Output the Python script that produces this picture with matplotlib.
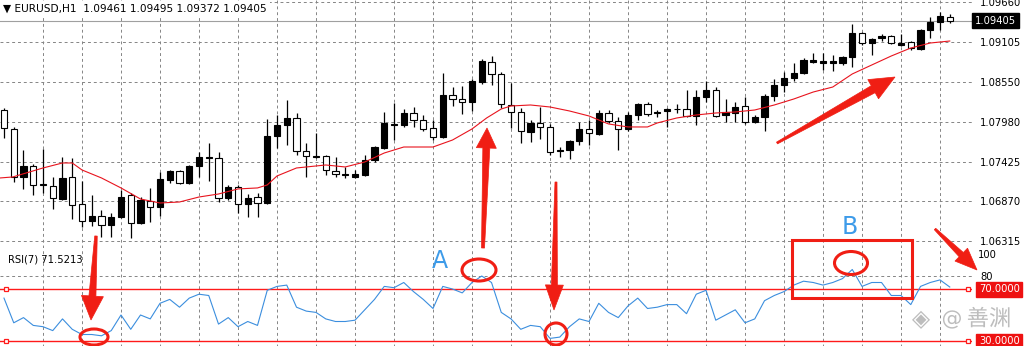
import matplotlib.pyplot as plt
import matplotlib.patches as mpatches
import matplotlib.patheffects as pe
import numpy as np

# EURUSD H1 candles
opens = [1.08152, 1.07886, 1.07213, 1.07367, 1.07101, 1.07087, 1.06904, 1.07213, 1.06834, 1.06596,
         1.06666, 1.06540, 1.06652, 1.06960, 1.06568, 1.06876, 1.06792, 1.07171, 1.07297, 1.07129,
         1.07367, 1.07479, 1.07479, 1.06918, 1.07073, 1.06834, 1.06932, 1.06848, 1.07787, 1.07942,
         1.08040, 1.07577, 1.07493, 1.07507, 1.07297, 1.07241, 1.07213, 1.07241, 1.07451, 1.07619,
         1.07942, 1.07942, 1.08110, 1.08012, 1.07900, 1.07773, 1.08362, 1.08306, 1.08264, 1.08544,
         1.08825, 1.08657, 1.08222, 1.08124, 1.07844, 1.07970, 1.07914, 1.07577, 1.07591, 1.07717,
         1.07886, 1.07815, 1.08110, 1.07998, 1.07886, 1.08082, 1.08236, 1.08110, 1.08138, 1.08166,
         1.08166, 1.08068, 1.08334, 1.08432, 1.08082, 1.08110, 1.08208, 1.07984, 1.08054, 1.08348,
         1.08502, 1.08600, 1.08671, 1.08825, 1.08811, 1.08811, 1.08811, 1.08895, 1.09231, 1.09091,
         1.09161, 1.09189, 1.09063, 1.09105, 1.09007, 1.09273, 1.09386, 1.09461]
highs = [1.08180, 1.07914, 1.07591, 1.07395, 1.07605, 1.07213, 1.07493, 1.07479, 1.07157, 1.06960,
         1.06750, 1.06708, 1.07031, 1.06988, 1.06932, 1.07059, 1.07283, 1.07311, 1.07311, 1.07381,
         1.07563, 1.07689, 1.07563, 1.07101, 1.07101, 1.06974, 1.06988, 1.08026, 1.08082, 1.08292,
         1.08110, 1.07689, 1.07830, 1.07521, 1.07493, 1.07353, 1.07311, 1.07521, 1.07647, 1.08124,
         1.08250, 1.08166, 1.08194, 1.08082, 1.08012, 1.08671, 1.08474, 1.08488, 1.08586, 1.08867,
         1.08909, 1.08685, 1.08530, 1.08180, 1.08012, 1.08194, 1.07956, 1.07633, 1.07731, 1.07984,
         1.08012, 1.08152, 1.08152, 1.08054, 1.08124, 1.08250, 1.08264, 1.08152, 1.08180, 1.08236,
         1.08432, 1.08432, 1.08558, 1.08474, 1.08306, 1.08264, 1.08334, 1.08082, 1.08376, 1.08586,
         1.08685, 1.08811, 1.08881, 1.08951, 1.08951, 1.08923, 1.08909, 1.09358, 1.09245, 1.09161,
         1.09217, 1.09203, 1.09217, 1.09119, 1.09287, 1.09456, 1.09526, 1.09495]
lows = [1.07759, 1.07143, 1.07045, 1.06960, 1.06988, 1.06764, 1.06890, 1.06624, 1.06512, 1.06526,
        1.06371, 1.06371, 1.06638, 1.06357, 1.06554, 1.06582, 1.06666, 1.07129, 1.07115, 1.07115,
        1.07213, 1.07157, 1.06862, 1.06890, 1.06708, 1.06652, 1.06652, 1.06834, 1.07619, 1.07661,
        1.07521, 1.07213, 1.07479, 1.07241, 1.07213, 1.07199, 1.07199, 1.07227, 1.07423, 1.07605,
        1.07731, 1.07914, 1.07914, 1.07858, 1.07731, 1.07759, 1.08208, 1.08096, 1.08138, 1.08516,
        1.08502, 1.08180, 1.07900, 1.07689, 1.07703, 1.07745, 1.07521, 1.07493, 1.07465, 1.07661,
        1.07661, 1.07801, 1.07970, 1.07591, 1.07858, 1.08012, 1.08068, 1.08054, 1.07914, 1.08110,
        1.08054, 1.07942, 1.08264, 1.08054, 1.07984, 1.07984, 1.07956, 1.07970, 1.07858, 1.08278,
        1.08404, 1.08558, 1.08657, 1.08811, 1.08713, 1.08699, 1.08783, 1.08755, 1.09063, 1.08923,
        1.09119, 1.09077, 1.09049, 1.08993, 1.08993, 1.09161, 1.09273, 1.09372]
closes = [1.07900, 1.07213, 1.07367, 1.07101, 1.07115, 1.06918, 1.07199, 1.06820, 1.06596, 1.06666,
          1.06540, 1.06652, 1.06932, 1.06568, 1.06890, 1.06792, 1.07185, 1.07297, 1.07129, 1.07367,
          1.07493, 1.07493, 1.06918, 1.07073, 1.06834, 1.06918, 1.06848, 1.07787, 1.07942, 1.08040,
          1.07577, 1.07507, 1.07507, 1.07311, 1.07255, 1.07255, 1.07255, 1.07451, 1.07633, 1.07970,
          1.07956, 1.08110, 1.08012, 1.07886, 1.07773, 1.08362, 1.08306, 1.08264, 1.08558, 1.08839,
          1.08657, 1.08236, 1.08124, 1.07858, 1.07970, 1.07914, 1.07563, 1.07591, 1.07717, 1.07886,
          1.07830, 1.08110, 1.07998, 1.07886, 1.08082, 1.08236, 1.08096, 1.08124, 1.08166, 1.08172,
          1.08068, 1.08334, 1.08432, 1.08068, 1.08124, 1.08194, 1.07984, 1.08054, 1.08348, 1.08502,
          1.08600, 1.08671, 1.08853, 1.08853, 1.08839, 1.08839, 1.08895, 1.09231, 1.09091, 1.09147,
          1.09189, 1.09091, 1.09091, 1.09021, 1.09273, 1.09386, 1.09470, 1.09405]

# red moving average, read at a set of bars
ma_idx = [-0.4, 0.9, 4, 6, 7, 8, 10, 12, 14, 16, 18, 20, 22, 24, 26, 27, 28, 30, 32, 33,
          35, 37, 39, 41, 43, 44, 46, 48, 49.5, 51, 52, 54, 56, 58, 60, 62, 64, 66, 67, 69,
          71, 73, 75, 77, 79, 81, 83, 85, 87, 89, 91, 93, 95, 97]
ma_vals = [1.07199, 1.07213, 1.07339, 1.07409, 1.07409, 1.07311, 1.07199, 1.07059, 1.06904, 1.06848,
           1.06862, 1.06932, 1.06974, 1.07045, 1.07059, 1.07101, 1.07227, 1.07339, 1.07367, 1.07381,
           1.07353, 1.07423, 1.07549, 1.07633, 1.07633, 1.07633, 1.07731, 1.07886, 1.08040, 1.08166,
           1.08208, 1.08222, 1.08194, 1.08138, 1.08068, 1.07956, 1.07914, 1.07914, 1.07970, 1.08040,
           1.08082, 1.08110, 1.08124, 1.08152, 1.08222, 1.08306, 1.08404, 1.08474, 1.08657, 1.08783,
           1.08909, 1.09021, 1.09091, 1.09119]

# RSI(7) per bar
rsi = [63, 44, 48, 42, 41, 38, 47, 39, 35, 35,
       34, 38, 50, 39, 50, 47, 59, 62, 56, 63,
       66, 65, 43, 48, 41, 45, 42, 69, 72, 73,
       56, 53, 52, 47, 45, 45, 46, 54, 62, 72,
       71, 75, 68, 62, 55, 72, 70, 67, 75, 80,
       75, 52, 47, 39, 42, 41, 32, 33, 41, 47,
       45, 59, 52, 48, 57, 63, 55, 56, 58, 58,
       51, 66, 69, 46, 50, 54, 44, 47, 61, 65,
       68, 73, 76, 75, 73, 75, 78, 85, 72, 75,
       75, 65, 65, 58, 72, 75, 77, 71.5213]

price_levels = [1.09660, 1.09105, 1.08550, 1.07980, 1.07425, 1.06870, 1.06315]
rsi_levels = [70, 30]

W, H = 1024, 346
fig = plt.figure(figsize=(W / 100, H / 100), dpi=100)
fig.patch.set_facecolor('white')


def px_box(x0, y0, x1, y1):
    return [x0 / W, 1 - y1 / H, (x1 - x0) / W, (y1 - y0) / H]


ax = fig.add_axes(px_box(0, 0, 972, 248))
rax = fig.add_axes(px_box(0, 250, 972, 380))

idx = np.arange(len(closes))
o = np.array(opens)
c = np.array(closes)
grid_kw = dict(color='#858585', lw=0.7, ls=(0, (3, 3)))

for a in (ax, rax):
    a.set_xlim(-0.41, 99.28)
    a.set_xticks(range(4, 98, 4))
    a.tick_params(axis='x', length=0, labelbottom=False)
    for s in a.spines.values():
        s.set_visible(False)
    a.grid(True, **grid_kw)
    a.set_axisbelow(True)
    a.yaxis.tick_right()
    a.tick_params(axis='y', length=0, pad=6, labelsize=7.2)

# main window
ax.set_ylim(1.06217, 1.09694)
ax.set_yticks(price_levels)
ax.set_yticklabels(['%.5f' % v for v in price_levels])
ax.axhline(closes[-1], color='#a0a0a0', lw=0.8, zorder=1)
ax.vlines(idx, lows, highs, color='black', lw=0.9, zorder=2)
bull = c >= o
ax.bar(idx, np.abs(c - o), bottom=np.minimum(o, c), width=0.66,
       color=np.where(bull, 'black', 'white'), edgecolor='black', lw=0.8, zorder=3)
ax.plot(ma_idx, ma_vals, color='#e8141e', lw=0.8, zorder=4)
ax.text(1.003, closes[-1], '%.5f' % closes[-1], transform=ax.get_yaxis_transform(),
        color='white', fontsize=7.2, va='center', ha='left',
        bbox=dict(boxstyle='square,pad=0.25', fc='black', ec='black'), zorder=6)

# RSI window
rax.set_ylim(0, 100)
rax.set_yticks([80])
rax.set_yticklabels(['80'])
rax.plot(idx, rsi, color='#3b8ede', lw=0.8, zorder=3)
rtr = rax.get_yaxis_transform()
for lv in rsi_levels:
    rax.axhline(lv, color='#ff1a1a', lw=1.0, zorder=2)
    rax.plot([0.006, 0.996], [lv, lv], 's', ms=3.5, mfc='white', mec='#ff1a1a',
             mew=0.9, transform=rtr, clip_on=False, zorder=4)
    rax.text(1.007, lv, '%.4f' % lv, transform=rtr, color='white', fontsize=7.2,
             va='center', ha='left',
             bbox=dict(boxstyle='square,pad=0.25', fc='#ee1111', ec='#ee1111'))
rax.text(1.006, 100, '100', transform=rtr, fontsize=7.2, va='top', ha='left')

# overlay in pixel coordinates for labels and hand-drawn marks
ov = fig.add_axes([0, 0, 1, 1], zorder=10)
ov.set_xlim(0, W)
ov.set_ylim(H, 0)
ov.axis('off')

ov.text(3, 9, '\u25bc EURUSD,H1  1.09461 1.09495 1.09372 1.09405', fontsize=7.6,
        va='center', ha='left', bbox=dict(boxstyle='square,pad=0.3', fc='white', ec='none'))
ov.text(8, 259, 'RSI(7) 71.5213', fontsize=7.2, va='center', ha='left')

red = '#f01e14'


def tapered_arrow(x0, y0, x1, y1, w0, w1, hw, hl):
    d = np.array([x1 - x0, y1 - y0], float)
    L = np.hypot(*d)
    u = d / L
    n = np.array([-u[1], u[0]])
    p0 = np.array([x0, y0], float)
    base = p0 + u * (L - hl)
    tip = np.array([x1, y1], float)
    pts = [p0 + n * w0 / 2, base + n * w1 / 2, base + n * hw / 2, tip,
           base - n * hw / 2, base - n * w1 / 2, p0 - n * w0 / 2]
    return mpatches.Polygon(pts, closed=True, fc=red, ec=red, lw=0.5)


arrows = [((96, 236), (91, 320), 2.5, 7, 22, 24),
          ((483, 248), (487, 128), 3, 7, 20, 20),
          ((556, 182), (554, 310), 2, 6, 18, 25),
          ((777, 143), (895, 77), 2, 8, 22, 25),
          ((935, 229), (977, 270), 2, 6, 18, 22)]
for (x0, y0), (x1, y1), w0, w1, hw, hl in arrows:
    ov.add_patch(tapered_arrow(x0, y0, x1, y1, w0, w1, hw, hl))

for cx, cy, ew, eh in [(94, 337, 28, 16), (479, 270, 34, 22), (556, 334, 22, 22), (851, 263, 33, 23)]:
    ov.add_patch(mpatches.Ellipse((cx, cy), ew, eh, fill=False, ec=red, lw=2.2))
ov.add_patch(mpatches.Rectangle((792, 240), 120, 58, fill=False, ec=red, lw=2.2))

ov.text(440, 261, 'A', fontsize=17, color='#3d9be9', ha='center', va='center')
ov.text(850, 227, 'B', fontsize=17, color='#3d9be9', ha='center', va='center')

# watermark
wm = [pe.withStroke(linewidth=2.5, foreground='white')]
ov.text(921, 319, '\u25c8', fontsize=17, color='#bdbdbd', ha='center', va='center',
        family=['DejaVu Sans'], path_effects=wm)
ov.text(952, 319, '@', fontsize=15, color='#bdbdbd', ha='center', va='center',
        family=['DejaVu Sans'], path_effects=wm)
ov.text(989, 319, '善渊', fontsize=16, color='#bdbdbd', ha='center', va='center',
        family=['Noto Sans CJK SC', 'DejaVu Sans'], path_effects=wm)

fig.savefig('out.png', dpi=100)
